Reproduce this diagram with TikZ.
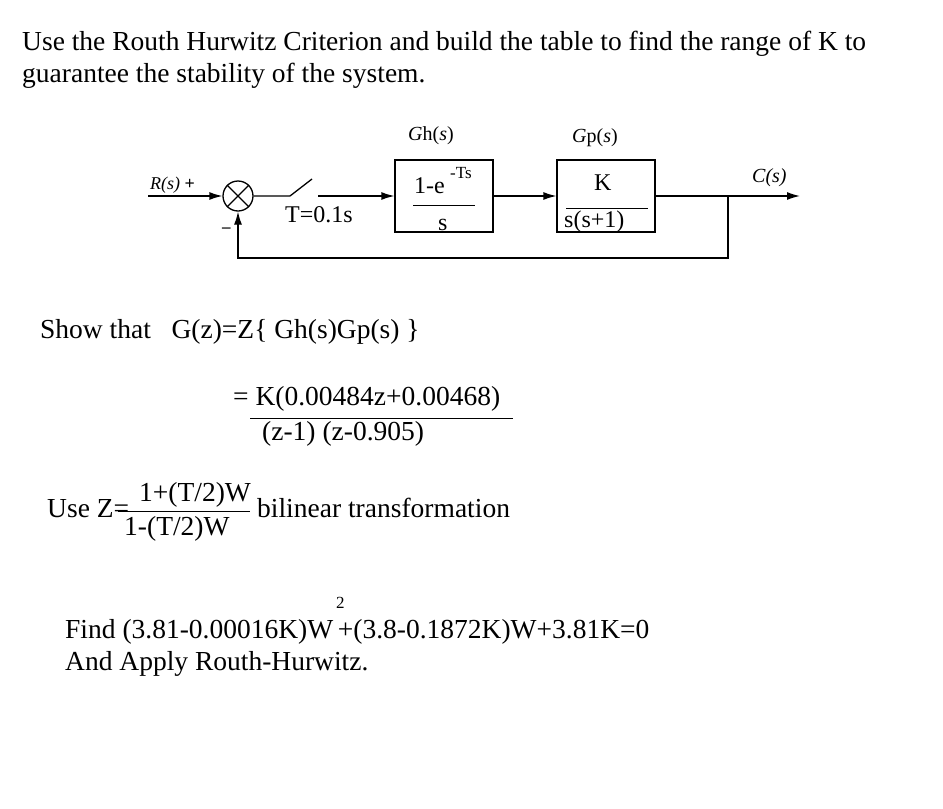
\documentclass[tikz,border=0pt]{standalone}
\usepackage{fontspec}
\setmainfont{Liberation Serif}
\usetikzlibrary{arrows.meta}
\begin{document}
\begin{tikzpicture}[x=1pt,y=-1pt,
  txt/.style={inner sep=0pt,anchor=base west},
  big/.style={font=\fontsize{27.5}{30}\selectfont},
  mid/.style={font=\fontsize{24}{26}\selectfont},
  sm/.style={font=\fontsize{17}{18}\selectfont},
  blk/.style={draw,line width=1.3pt,minimum width=98pt,minimum height=72pt,inner sep=0pt},
  sig/.style={line width=1.3pt,-{Latex[length=13pt,width=8pt]}},
  wire/.style={line width=1.3pt}]
\useasboundingbox (0,0) rectangle (943,809);
\node[txt,big] (t1) at (22,50) {Use the Routh Hurwitz Criterion and build the table to find the range of K to};
\node[txt,big] (t2) at (22,82) {guarantee the stability of the system.};
% block diagram
\node[draw,circle,line width=1.3pt,minimum size=30pt,inner sep=0pt] (sum) at (238,196) {};
\draw[line width=1.3pt] (sum.north west)--(sum.south east) (sum.north east)--(sum.south west);
\node[blk] (gh) at (444,196) {};
\node[blk] (gp) at (606,196) {};
\coordinate (rin) at (148,196);
\coordinate (sw1) at (290,196);
\coordinate (sw2) at (312,179);
\coordinate (sw3) at (318,196);
\coordinate (tap) at (728,196);
\coordinate (cout) at (800,196);
\coordinate (fb1) at (728,258);
\coordinate (fb2) at (238,258);
\draw[sig] (rin)--(sum.west);
\draw[wire] (sum.east)--(sw1)--(sw2);
\draw[sig] (sw3)--(gh.west);
\draw[sig] (gh.east)--(gp.west);
\draw[sig] (gp.east)--(cout);
\draw[sig] (tap)--(fb1)--(fb2)--(sum.south);
\node[txt,sm,font=\fontsize{18}{18}\selectfont\itshape] (rl) at (150,189) {R(s)\ \upshape\bfseries +};
\node[txt,sm] (minus) at (222,232) {\textbf{–}};
\node[txt,mid] (tl) at (285,222) {T=0.1s};
\node[txt,font=\fontsize{20}{20}\selectfont] (ghl) at (408,140) {\textit{G}h(\textit{s})};
\node[txt,font=\fontsize{20}{20}\selectfont] (gpl) at (572,142) {\textit{G}p(\textit{s})};
\node[txt,font=\fontsize{20}{20}\selectfont\itshape] (cl) at (752,182) {C(s)};
\node[txt,mid] (n1) at (414,193) {1-e};
\node[txt,sm] (n1e) at (450,178) {-Ts};
\draw[wire,line width=0.8pt] (413,205)--(475,205);
\node[txt,mid] (d1) at (438,230) {s};
\node[txt,mid] (n2) at (594,190) {K};
\draw[wire,line width=0.8pt] (566,208)--(648,208);
\node[txt,mid] (d2) at (564,227) {s(s+1)};
% equations
\node[txt,big] (show) at (40,338) {Show that\ \ \ G(z)=Z\{ Gh(s)Gp(s) \}};
\node[txt,big] (eq1) at (233,405) {= K(0.00484z+0.00468)};
\draw[line width=0.8pt] (250,418)--(513,418);
\node[txt,big] (eq2) at (262,440) {(z-1) (z-0.905)};
\node[txt,big] (usez) at (47,517) {Use Z=};
\node[txt,big] (num) at (139,501) {1+(T/2)W};
\draw[line width=0.8pt] (118,511)--(250,511);
\node[txt,big] (den) at (124,535) {1-(T/2)W};
\node[txt,big] (bil) at (257,517) {bilinear transformation};
\node[txt,sm] (sq) at (336,608) {2};
\node[txt,big] (find) at (65,638) {Find (3.81-0.00016K)W\,+(3.8-0.1872K)W+3.81K=0};
\node[txt,big] (apply) at (65,670) {And Apply Routh-Hurwitz.};
\end{tikzpicture}
\end{document}
